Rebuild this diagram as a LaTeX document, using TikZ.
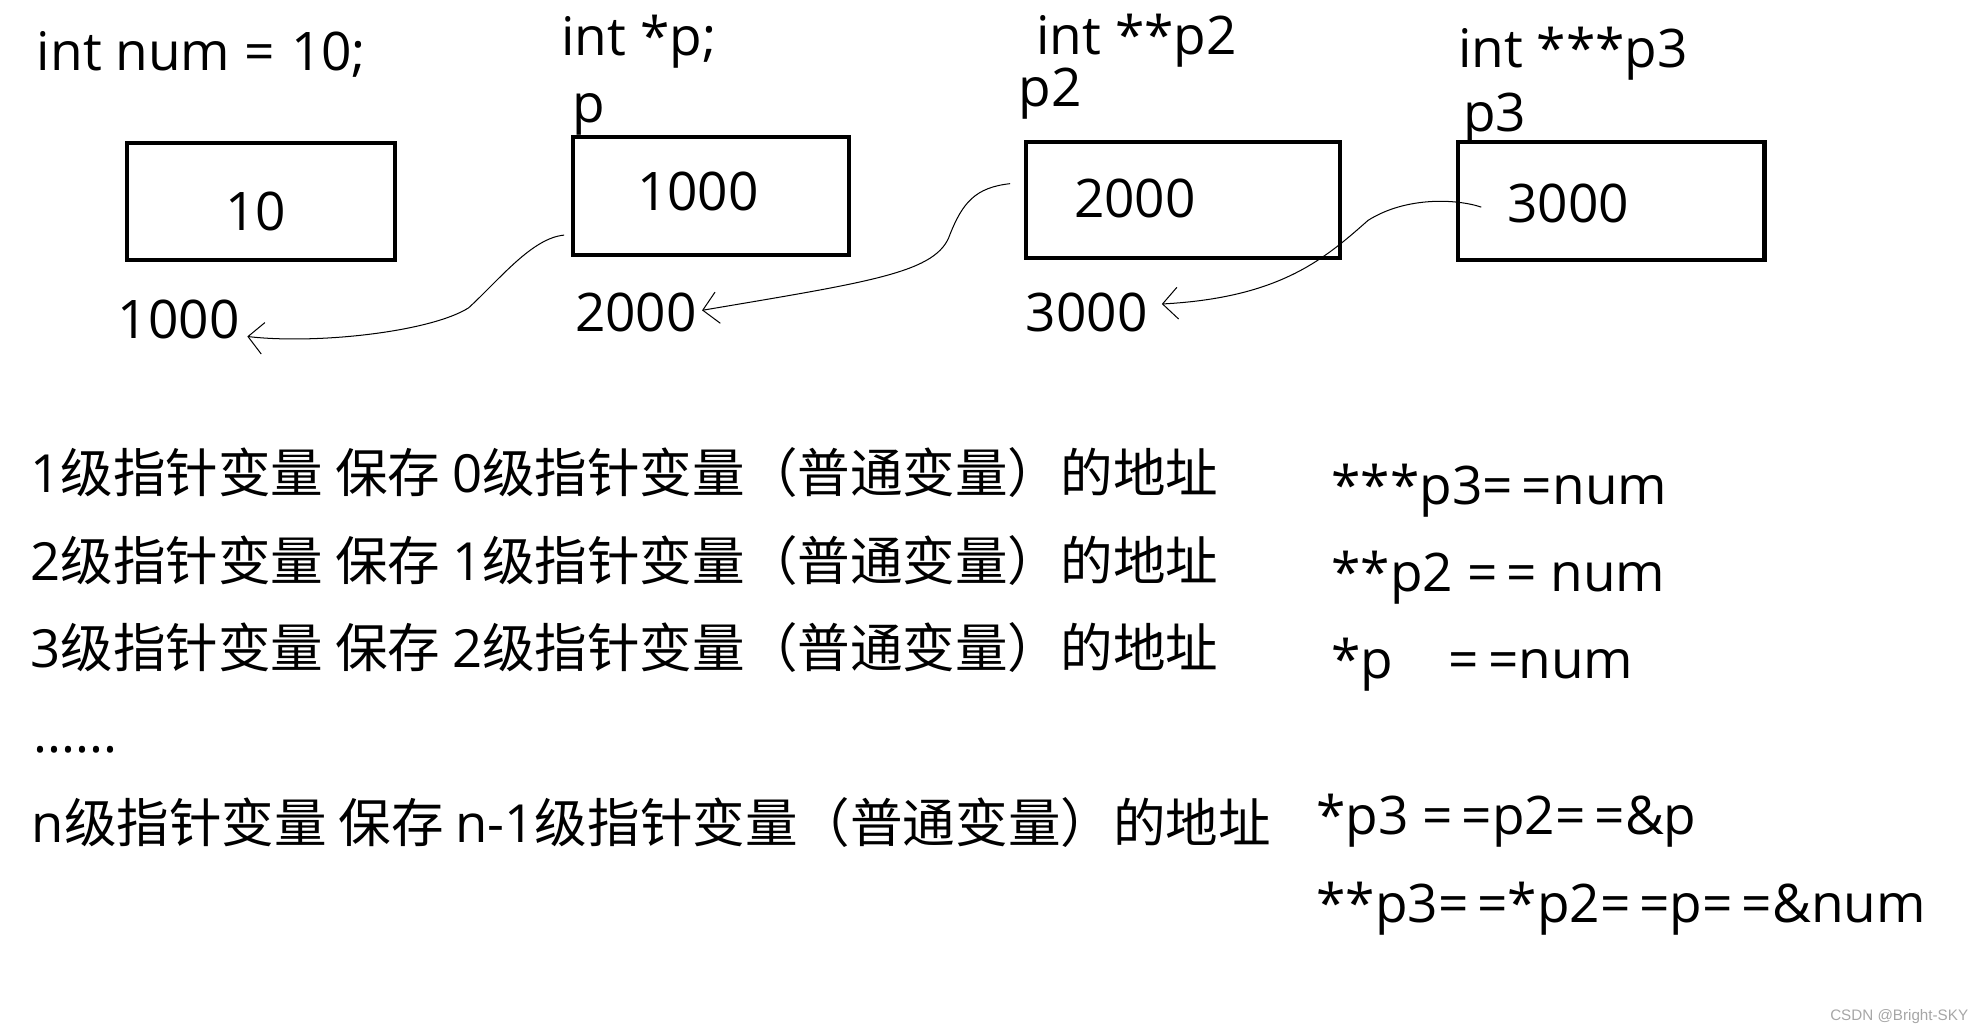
\documentclass[tikz,border=0pt]{standalone}
\usepackage{fontspec}
\setmainfont{Open Sans}
\newfontfamily\cjk{Noto Sans CJK SC}
\newfontfamily\wmfont{Liberation Sans}
\usetikzlibrary{arrows.meta}
\newcommand{\zh}[1]{{\cjk #1}}
\newcommand{\gl}{=\kern7pt=}

\begin{document}
\begin{tikzpicture}[
  x=1pt, y=-1pt,
  kasten/.style={
    draw, line width=3.2pt, inner sep=0pt
  },
  wert/.style={
    inner sep=0pt, font=\fontsize{42}{50}\selectfont
  },
  titel/.style={
    inner sep=0pt, anchor=base west, font=\fontsize{42}{50}\selectfont
  },
  zeile/.style={
    inner sep=0pt, anchor=base west, font=\fontsize{41.5}{50}\selectfont
  },
  zeiger/.style={
    line width=0.8pt, -{Straight Barb[length=12pt,width=25pt]}
  }
]
\useasboundingbox (0,0) rectangle (1560,811.6);

\draw (29,56) node [titel] (tnum) {int num ={\kern2pt} 10;};
\draw (443,44) node [titel] (tp) {int *p;};
\draw (452,97) node [titel] (lp) {p};
\draw (818,43) node [titel] (tp2) {int **p2};
\draw (804,84) node [titel] (lp2) {p2};
\draw (1151,53) node [titel] (tp3) {int ***p3};
\draw (1155,104) node [titel] (lp3) {p3};

\draw (206,159) node [kasten, minimum width=212pt, minimum height=92pt] (numbox) {};
\draw (561,154.5) node [kasten, minimum width=218pt, minimum height=93pt] (pbox) {};
\draw (934,158) node [kasten, minimum width=248pt, minimum height=92pt] (p2box) {};
\draw (1272,158.5) node [kasten, minimum width=242pt, minimum height=93pt] (p3box) {};

\draw (202,167) node [wert] (v0) {10};
\draw (551,151) node [wert] (v1) {1000};
\draw (896,157) node [wert] (v2) {2000};
\draw (1238,161) node [wert] (v3) {3000};

\draw (141,252) node [wert] (a1) {1000};
\draw (502,247) node [wert] (a2) {2000};
\draw (858,247) node [wert] (a3) {3000};

% pointer arrows
\draw [zeiger] ([xshift=-5pt,yshift=17pt]pbox.south west)
  .. controls (420,188) and (395,220) .. (370,243)
  .. controls (340,262) and (250,272) .. ([xshift=6pt,yshift=2pt]a1.south east);
\draw [zeiger] ([xshift=-11pt,yshift=13pt]p2box.west)
  .. controls (770,148) and (760,160) .. (750,185)
  .. controls (740,215) and (690,222) .. ([xshift=4pt,yshift=2pt]a2.east);
\draw [zeiger] ([xshift=20pt,yshift=-5pt]p3box.west)
  .. controls (1150,157) and (1110,155) .. (1080,174)
  .. controls (1045,205) and (1010,235) .. ([xshift=11pt,yshift=7pt]a3.east);

\draw (24,389) node [zeile] (z1) {1\zh{级指针变量 保存 }0\zh{级指针变量（普通变量）的地址}};
\draw (24,458) node [zeile] (z2) {2\zh{级指针变量 保存 }1\zh{级指针变量（普通变量）的地址}};
\draw (24,527) node [zeile] (z3) {3\zh{级指针变量 保存 }2\zh{级指针变量（普通变量）的地址}};
\draw (26,594) node [zeile] (zdots) {......};
\draw (25,665) node [zeile] (zn) {n\zh{级指针变量 保存 }n-1\zh{级指针变量（普通变量）的地址}};

\draw (1051,398) node [titel] (g1) {***p3\gl num};
\draw (1051,467) node [titel] (g2) {**p2 \gl{} num};
\draw (1051,536) node [titel] (g3) {*p\ \ \ \ \gl num};
\draw (1039,659) node [titel] (g4) {*p3 \gl p2\gl\&p};
\draw (1039,728) node [titel] (g5) {**p3\gl*p2\gl p\gl\&num};

\draw (1554,806) node [inner sep=0pt, anchor=base east, text=black!35,
  font=\wmfont\fontsize{12}{14}\selectfont] (wm) {CSDN @Bright-SKY};
\end{tikzpicture}
\end{document}
